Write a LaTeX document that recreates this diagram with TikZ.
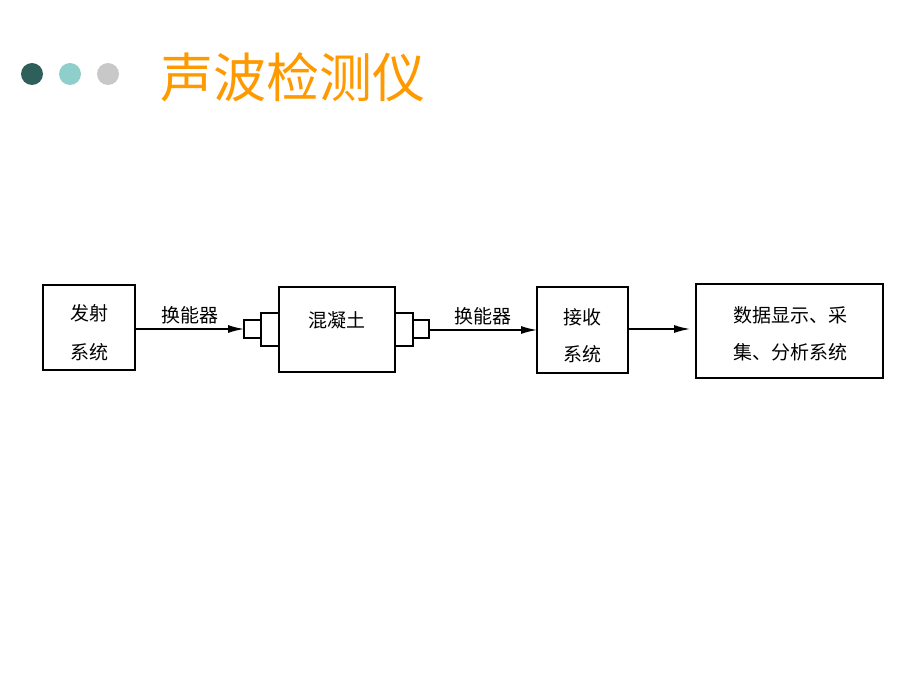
\documentclass[tikz,border=0pt]{standalone}
\usepackage{fontspec}
\newfontfamily\cjk{Noto Sans CJK SC}
\usetikzlibrary{arrows.meta}
\definecolor{dotA}{HTML}{2F5F5A}
\definecolor{dotB}{HTML}{8FCFCB}
\definecolor{dotC}{HTML}{C8C8C8}
\definecolor{titleorange}{HTML}{FF9900}
\tikzset{
    blk/.style={draw,line width=1.4pt,inner sep=0pt},
    lbl/.style={font=\cjk\fontsize{19}{22}\selectfont},
    link/.style={line width=1.4pt,-{Latex[length=16pt,width=8pt]}}
}
\begin{document}
\begin{tikzpicture}[x=1pt,y=-1pt]
        \useasboundingbox (0,0) rectangle (920,690);
        \fill[dotA] (32,74) circle (11);
        \fill[dotB] (70,74) circle (11);
        \fill[dotC] (108,74) circle (11);
        \node[text=titleorange,font=\cjk\fontsize{53}{56}\selectfont] (title) at (293,77) {声波检测仪};
        % blocks
        \draw[blk] (43,285) rectangle (135,370);
        \node[lbl] (fs1) at (89,313) {发射};
        \node[lbl] (fs2) at (89,352) {系统};
        \draw[blk] (244,320) rectangle (261,338);
        \draw[blk] (261,313) rectangle (279,346);
        \draw[blk] (279,287) rectangle (395,372);
        \node[lbl] (hnt) at (337,320) {混凝土};
        \draw[blk] (395,313) rectangle (413,346);
        \draw[blk] (413,320) rectangle (429,338);
        \draw[blk] (537,287) rectangle (628,373);
        \node[lbl] (js1) at (582,317) {接收};
        \node[lbl] (js2) at (582,354) {系统};
        \draw[blk] (696,284) rectangle (883,378);
        \node[lbl] (sj1) at (790,315) {数据显示、采};
        \node[lbl] (sj2) at (790,352) {集、分析系统};
        % connectors
        \coordinate (a1) at (135,329);
        \coordinate (a2) at (244,329);
        \coordinate (b1) at (429,330);
        \coordinate (b2) at (537,330);
        \coordinate (c1) at (628,329);
        \coordinate (c2) at (690,329);
        \draw[link] (a1) -- node[lbl,above=1pt] {换能器} (a2);
        \draw[link] (b1) -- node[lbl,above=1pt] {换能器} (b2);
        \draw[link] (c1) -- (c2);
\end{tikzpicture}
\end{document}
